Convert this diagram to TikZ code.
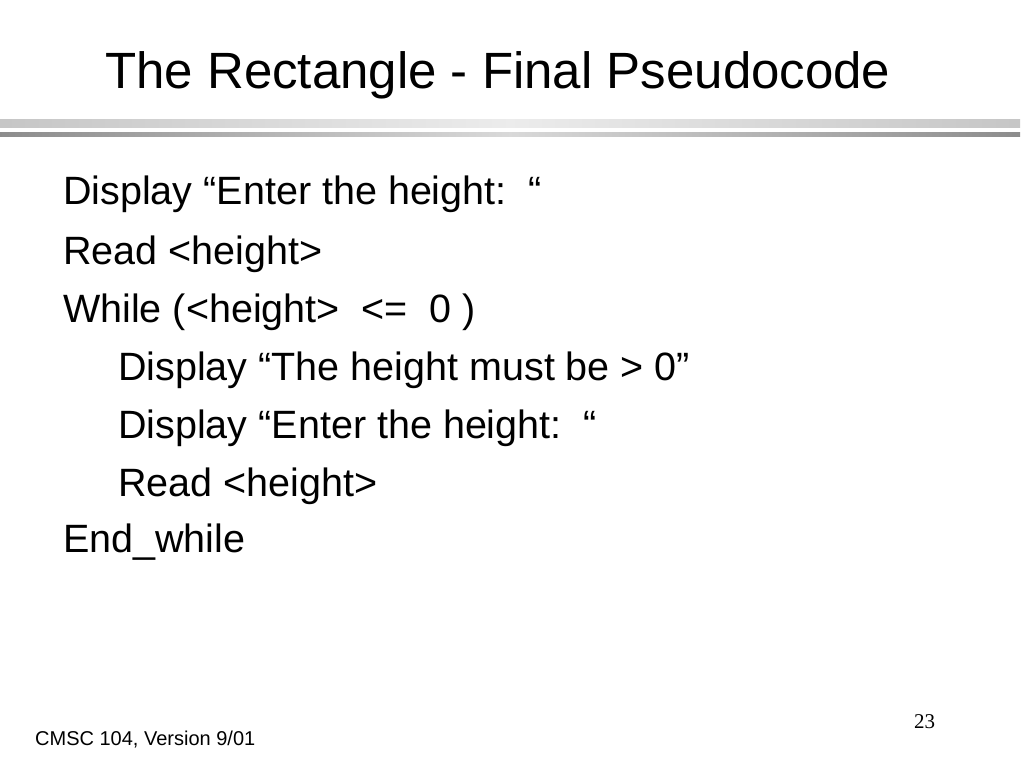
\documentclass[tikz,border=0pt]{standalone}
\usepackage{fontspec}
\setmainfont{Liberation Sans}
\newfontfamily\serifnum{Liberation Serif}
\begin{document}
\begin{tikzpicture}[x=1pt,y=-1pt,
    line/.style={anchor=base west,inner sep=0,font=\fontsize{39.5}{45}\selectfont}
]
    \useasboundingbox[fill=white] (0,0) rectangle (1024,768);

    \node[anchor=base west,inner sep=0,font=\fontsize{51}{60}\selectfont] (title) at (105,88) {The Rectangle - Final Pseudocode};

    % gray bars under the title
    \shade[left color=gray!45,right color=gray!45,middle color=gray!15] (0,119) rectangle (1020,127);
    \shade[left color=gray!90,right color=gray!90,middle color=gray!30] (0,132) rectangle (1020,136);

    \node[line] (l1) at (63,204) {Display “Enter the height:~~“};
    \node[line] (l2) at (63,264) {Read <height>};
    \node[line] (l3) at (63,322) {While (<height>~~<=~~0 )};
    \node[line] (l4) at (118,380) {Display “The height must be > 0”};
    \node[line] (l5) at (118,438) {Display “Enter the height:~~“};
    \node[line] (l6) at (118,496) {Read <height>};
    \node[line] (l7) at (63,552) {End\_while};

    \node[anchor=base west,inner sep=0,font=\serifnum\fontsize{21}{25}\selectfont] (num) at (914,728) {23};
    \node[anchor=base west,inner sep=0,font=\fontsize{20}{24}\selectfont] (foot) at (35,745) {CMSC 104, Version 9/01};
\end{tikzpicture}
\end{document}
